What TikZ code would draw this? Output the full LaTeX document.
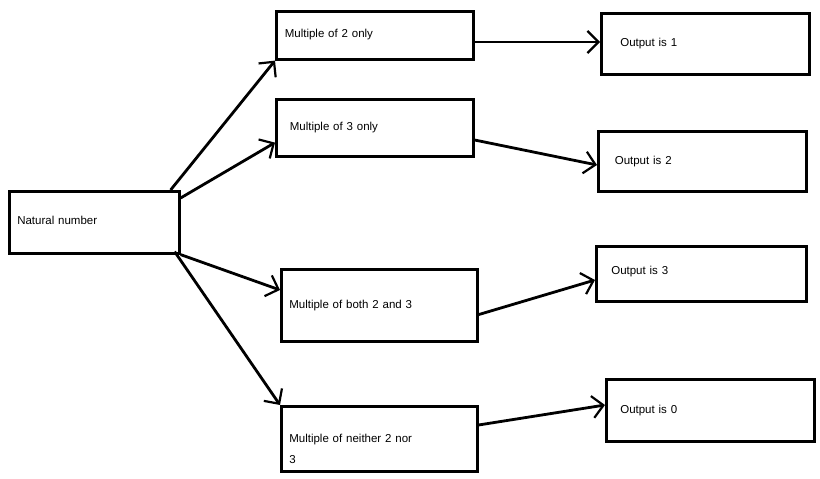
\documentclass[tikz,border=0pt]{standalone}
\usepackage{fontspec}
\setmainfont{Liberation Sans}
\usetikzlibrary{arrows.meta}
\tikzset{
    box/.style={draw,line width=2.6pt,inner sep=0pt,anchor=north west,font=\fontsize{11.5}{21}\selectfont},
    arr/.style={line width=2.8pt,-{Straight Barb[length=11pt,width=22pt,line width=2.2pt]}}
}
\begin{document}
\begin{tikzpicture}[x=1pt,y=-1pt]
    \useasboundingbox (0,0) rectangle (820,479);
    % input and classes
    \node [box,minimum width=170pt,minimum height=62pt,text width=154pt,align=left,text depth=4pt] (nat) at (8,190) {Natural number};
    \node [box,minimum width=197pt,minimum height=48pt,text width=180pt,align=left,text depth=4pt] (m2) at (275,10) {Multiple of 2 only};
    \node [box,minimum width=197pt,minimum height=57pt,text width=170pt,align=left,text depth=2pt] (m3) at (275,98) {Multiple of 3 only};
    \node [box,minimum width=196pt,minimum height=72pt,text width=180pt,align=left] (m6) at (280,268) {Multiple of both 2 and 3};
    \node [box,minimum width=196pt,minimum height=65pt,text width=180pt,align=left,text height=28pt] (m0) at (280,405) {Multiple of neither 2 nor\\3};
    % outputs
    \node [box,minimum width=208pt,minimum height=61pt,text width=170pt,align=left,text depth=2pt] (o1) at (600,12) {Output is 1};
    \node [box,minimum width=208pt,minimum height=60pt,text width=175pt,align=left,text depth=2pt] (o2) at (597,130) {Output is 2};
    \node [box,minimum width=210pt,minimum height=55pt,text width=180pt,align=left,text depth=6pt] (o3) at (595,245) {Output is 3};
    \node [box,minimum width=208pt,minimum height=62pt,text width=180pt,align=left] (o0) at (605,378) {Output is 0};
    % connectors
    \draw [arr] ([xshift=-10pt]nat.north east) -- (m2.south west);
    \draw [arr] ([yshift=-8pt]nat.north east) -- ([yshift=15pt]m3.south west);
    \draw [arr] (nat.south east) -- ([yshift=-22pt]m6.north west);
    \draw [arr] ([xshift=-6pt,yshift=3pt]nat.south east) -- (m0.north west);
    \draw [arr] ([yshift=-32pt]m2.north east) -- ([yshift=-30pt]o1.north west);
    \draw [arr] ([yshift=-42pt]m3.north east) -- ([yshift=-35pt]o2.north west);
    \draw [arr] ([yshift=28pt]m6.south east) -- ([yshift=-35pt]o3.north west);
    \draw [arr] ([yshift=-20pt]m0.north east) -- ([yshift=-27pt]o0.north west);
\end{tikzpicture}
\end{document}
